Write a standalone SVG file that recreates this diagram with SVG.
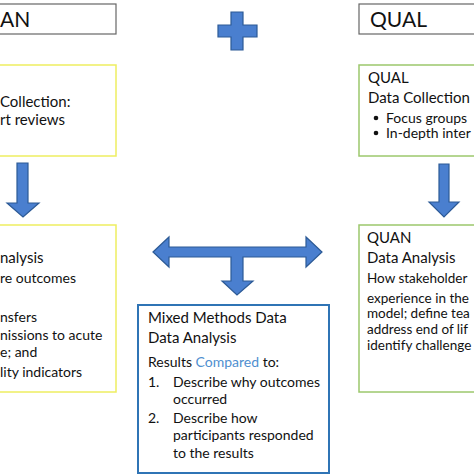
<svg xmlns="http://www.w3.org/2000/svg" width="474" height="474" viewBox="0 0 474 474">
<style>
text{font-family:Lato,"Liberation Sans",sans-serif;fill:#111}
.h{font-size:21px}
.t{font-size:15px}
.s{font-size:14px}
.x{font-size:13.5px}
.gray{fill:#fff;stroke:#666;stroke-width:1.2}
.yel{fill:#fff;stroke:#eeee60;stroke-width:1.5}
.grn{fill:#fff;stroke:#9cc86c;stroke-width:1.5}
.blu{fill:#fff;stroke:#2f74b5;stroke-width:2}
.arr{fill:#4a7fcf;stroke:#2c5a96;stroke-width:1.2;stroke-linejoin:miter}
.hl{fill:#4f8fd0}
</style>
<rect width="474" height="474" fill="#fff"/>
<g id="quan-title">
<rect class="gray" x="-10" y="4" width="126" height="30"/>
<text class="h" x="0" y="27">AN</text>
</g>
<g id="qual-title">
<rect class="gray" x="359" y="4" width="125" height="30"/>
<text class="h" x="370" y="27">QUAL</text>
</g>
<g id="quan-collection">
<rect class="yel" x="-10" y="65" width="126" height="91"/>
<text class="t" x="0" y="107">Collection:</text>
<text class="t" x="0" y="125">rt reviews</text>
</g>
<g id="qual-collection">
<rect class="grn" x="359" y="65" width="125" height="91"/>
<text class="t" x="368" y="83">QUAL</text>
<text class="t" x="368" y="103">Data Collection</text>
<circle cx="376" cy="118" r="2.3" fill="#111"/>
<text class="s" x="386" y="123">Focus groups</text>
<circle cx="376" cy="133" r="2.3" fill="#111"/>
<text class="s" x="386" y="138">In-depth inter</text>
</g>
<g id="quan-analysis">
<rect class="yel" x="-10" y="225" width="126" height="167"/>
<text class="t" x="0" y="263">nalysis</text>
<text class="s" x="0" y="283">re outcomes</text>
<text class="s" x="0" y="322">nsfers</text>
<text class="s" x="0" y="340">nissions to acute</text>
<text class="s" x="0" y="357">e; and</text>
<text class="s" x="0" y="377">lity indicators</text>
</g>
<g id="qual-analysis">
<rect class="grn" x="359" y="225" width="125" height="167"/>
<text class="t" x="367" y="243">QUAN</text>
<text class="t" x="367" y="263">Data Analysis</text>
<text class="x" x="367" y="283">How stakeholder</text>
<text class="x" x="367" y="303">experience in the</text>
<text class="x" x="367" y="318">model; define tea</text>
<text class="x" x="367" y="334">address end of lif</text>
<text class="x" x="367" y="350">identify challenge</text>
</g>
<g id="mixed-analysis">
<rect class="blu" x="138" y="305" width="191" height="168"/>
<text class="t" x="148" y="323">Mixed Methods Data</text>
<text class="t" x="148" y="343">Data Analysis</text>
<text class="s" x="148" y="367">Results <tspan class="hl">Compared</tspan> to:</text>
<text class="s" x="148" y="387">1.</text>
<text class="s" x="173" y="387">Describe why outcomes</text>
<text class="s" x="173" y="404">occurred</text>
<text class="s" x="148" y="423">2.</text>
<text class="s" x="173" y="423">Describe how</text>
<text class="s" x="173" y="440">participants responded</text>
<text class="s" x="173" y="458">to the results</text>
</g>
<g id="connectors">
<path class="arr" d="M231,12 H243 V25 H257 V37 H243 V50 H231 V37 H218 V25 H231 Z"/>
<path class="arr" d="M17,163 H28 V203 H39 L23,217 L7,203 H17 Z"/>
<path class="arr" d="M439,164 H449 V202 H459 L444,217 L429,202 H439 Z"/>
<path class="arr" d="M153,252 L169,237 V247 H306 V237 L322,252 L306,267 V257 H243 V281 H253 L237,295 L222,281 H231 V257 H169 V267 Z"/>
</g>
</svg>
